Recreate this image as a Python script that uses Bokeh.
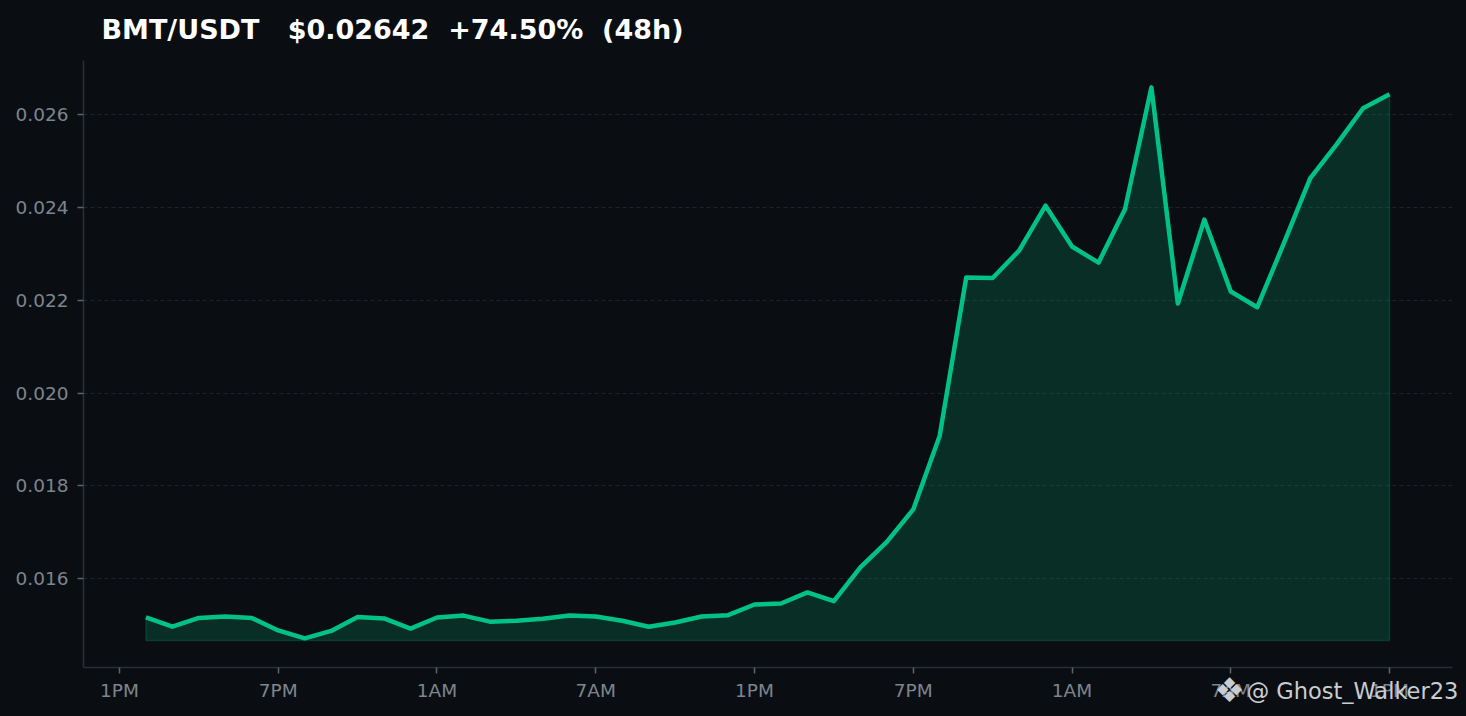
from bokeh.plotting import figure
from bokeh.models import ColumnDataSource, Range1d, FixedTicker, LinearAxis
from bokeh.embed import file_html
from bokeh.resources import INLINE

hours = list(range(1, 49))
prices = [0.01516, 0.01496, 0.01515, 0.01518, 0.01515, 0.01488, 0.01471, 0.01487,
          0.01517, 0.01514, 0.01492, 0.01516, 0.01520, 0.01507, 0.01509, 0.01513,
          0.01520, 0.01518, 0.01509, 0.01496, 0.01505, 0.01518, 0.01521, 0.01544,
          0.01546, 0.01570, 0.01551, 0.01624, 0.01679, 0.01749, 0.01908, 0.02249,
          0.02248, 0.02307, 0.02404, 0.02316, 0.02281, 0.02396, 0.02659, 0.02193,
          0.02374, 0.02219, 0.02185, 0.02322, 0.02463, 0.02536, 0.02614, 0.02644]
baseline = 0.014663
x_ticks = [0, 6, 12, 18, 24, 30, 36, 42, 48]
x_labels = ["1PM", "7PM", "1AM", "7AM", "1PM", "7PM", "1AM", "7AM", "1PM"]
y_ticks = [0.016, 0.018, 0.020, 0.022, 0.024, 0.026]
y_labels = ["0.016", "0.018", "0.020", "0.022", "0.024", "0.026"]
title_text = "BMT/USDT\u00a0\u00a0\u00a0$0.02642\u00a0\u00a0+74.50%\u00a0\u00a0(48h)"
watermark = "@ Ghost_Walker23"
watermark_icon = "❖"
watermark_pos = 46.6
icon_pos = 41.95

BG = "#0a0e12"
GREEN = "#00c284"
SPINE = "#2a2f35"
TICK = "#7d858e"
MARK = "#c9cdd1"

p = figure(width=1466, height=716, output_backend="svg", toolbar_location=None,
           x_range=Range1d(-1.36, 50.38), y_range=Range1d(0.014081, 0.02717),
           background_fill_color=BG, border_fill_color=BG,
           min_border_left=83, min_border_right=14, min_border_top=60, min_border_bottom=49)
p.outline_line_color = None

p.title.text = title_text
p.title.text_color = "#ffffff"
p.title.text_font = "DejaVu Sans"
p.title.text_font_style = "bold"
p.title.text_font_size = "27px"
p.title.vertical_align = "top"
p.title.offset = 18
p.title.standoff = 27

p.xgrid.visible = False
p.ygrid.ticker = FixedTicker(ticks=y_ticks)
p.ygrid.grid_line_color = "#1d2329"
p.ygrid.grid_line_dash = "4 3"
p.ygrid.grid_line_width = 1

for ax in (p.xaxis[0], p.yaxis[0]):
    ax.axis_line_color = SPINE
    ax.axis_line_width = 1.6
    ax.major_tick_line_color = "#5d646c"
    ax.major_tick_line_width = 1.5
    ax.major_tick_in = 0
    ax.major_tick_out = 6
    ax.minor_tick_line_color = None
    ax.major_label_text_color = TICK
    ax.major_label_text_font = "DejaVu Sans"
    ax.major_label_text_font_size = "18.5px"

p.xaxis[0].ticker = FixedTicker(ticks=x_ticks)
p.xaxis[0].major_label_overrides = dict(zip(x_ticks, x_labels))
p.xaxis[0].major_label_standoff = 6
p.yaxis[0].ticker = FixedTicker(ticks=y_ticks)
p.yaxis[0].major_label_overrides = dict(zip(y_ticks, y_labels))
p.yaxis[0].major_label_standoff = 9

px = hours + [hours[-1], hours[0]]
py = prices + [baseline, baseline]
p.patch(px, py, fill_color=GREEN, fill_alpha=0.18, line_color=GREEN, line_alpha=0.2, line_width=1.5)
src = ColumnDataSource(dict(x=hours, y=prices))
p.line("x", "y", source=src, line_color=GREEN, line_width=4.5, line_join="round")

def overlay_axis(pos, text, size, standoff):
    ax = LinearAxis(ticker=FixedTicker(ticks=[pos]), major_label_overrides={pos: text})
    ax.axis_line_color = None
    ax.major_tick_line_color = None
    ax.minor_tick_line_color = None
    ax.major_label_text_color = MARK
    ax.major_label_text_font = "DejaVu Sans"
    ax.major_label_text_font_size = size
    ax.major_label_standoff = standoff
    p.add_layout(ax, "below")

overlay_axis(watermark_pos, watermark, "22.5px", -32)
overlay_axis(icon_pos, watermark_icon, "34px", -43)

html = file_html(p, INLINE)
html = html.replace("<head>", "<head><style>html,body{background:%s}</style>" % BG, 1)
open("out.html", "w").write(html)
